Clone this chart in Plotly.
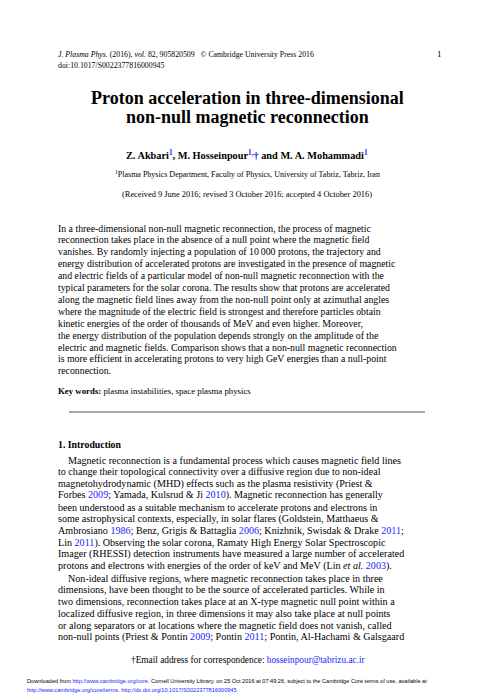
import plotly.graph_objects as go

BLUE = "#1a1aff"

def link(s):
    return "<span style='color:%s'>%s</span>" % (BLUE, s)

header_lines = [
    "<i>J. Plasma Phys.</i> (2016), <i>vol.</i> 82, 905820509   \u00a9 Cambridge University Press 2016",
    "doi:10.1017/S0022377816000945",
]
title_lines = ["Proton acceleration in three-dimensional", "non-null magnetic reconnection"]
authors = ("Z. Akbari" + link("<sup>1</sup>") + ", M. Hosseinpour" + link("<sup>1,</sup>\u2020")
           + " and M. A. Mohammadi" + link("<sup>1</sup>"))
affiliation = "<sup>1</sup>Plasma Physics Department, Faculty of Physics, University of Tabriz, Tabriz, Iran"
received = "(Received 9 June 2016; revised 3 October 2016; accepted 4 October 2016)"

abstract_lines = [
    "In a three-dimensional non-null magnetic reconnection, the process of magnetic",
    "reconnection takes place in the absence of a null point where the magnetic field",
    "vanishes. By randomly injecting a population of 10\u2009000 protons, the trajectory and",
    "energy distribution of accelerated protons are investigated in the presence of magnetic",
    "and electric fields of a particular model of non-null magnetic reconnection with the",
    "typical parameters for the solar corona. The results show that protons are accelerated",
    "along the magnetic field lines away from the non-null point only at azimuthal angles",
    "where the magnitude of the electric field is strongest and therefore particles obtain",
    "kinetic energies of the order of thousands of MeV and even higher. Moreover,",
    "the energy distribution of the population depends strongly on the amplitude of the",
    "electric and magnetic fields. Comparison shows that a non-null magnetic reconnection",
    "is more efficient in accelerating protons to very high GeV energies than a null-point",
    "reconnection.",
]
keywords = "<b>Key words:</b> plasma instabilities, space plasma physics"
section = "<b>1. Introduction</b>"

intro_lines = [
    "Magnetic reconnection is a fundamental process which causes magnetic field lines",
    "to change their topological connectivity over a diffusive region due to non-ideal",
    "magnetohydrodynamic (MHD) effects such as the plasma resistivity (Priest &amp;",
    "Forbes " + link("2009") + "; Yamada, Kulsrud &amp; Ji " + link("2010") + "). Magnetic reconnection has generally",
    "been understood as a suitable mechanism to accelerate protons and electrons in",
    "some astrophysical contexts, especially, in solar flares (Goldstein, Matthaeus &amp;",
    "Ambrosiano " + link("1986") + "; Benz, Grigis &amp; Battaglia " + link("2006") + "; Knizhnik, Swisdak &amp; Drake " + link("2011") + ";",
    "Lin " + link("2011") + "). Observing the solar corona, Ramaty High Energy Solar Spectroscopic",
    "Imager (RHESSI) detection instruments have measured a large number of accelerated",
    "protons and electrons with energies of the order of keV and MeV (Lin <i>et al.</i> " + link("2003") + ").",
    "Non-ideal diffusive regions, where magnetic reconnection takes place in three",
    "dimensions, have been thought to be the source of accelerated particles. While in",
    "two dimensions, reconnection takes place at an X-type magnetic null point within a",
    "localized diffusive region, in three dimensions it may also take place at null points",
    "or along separators or at locations where the magnetic field does not vanish, called",
    "non-null points (Priest &amp; Pontin " + link("2009") + "; Pontin " + link("2011") + "; Pontin, Al-Hachami &amp; Galsgaard",
]
indented = [0, 10]
footnote = "\u2020Email address for correspondence: " + link("hosseinpour@tabrizu.ac.ir")
download_lines = [
    "Downloaded from " + link("http://www.cambridge.org/core") + ". Cornell University Library, on 25 Oct 2016 at 07:49:26, subject to the Cambridge Core terms of use, available at",
    link("http://www.cambridge.org/core/terms") + ". " + link("http://dx.doi.org/10.1017/S0022377816000945"),
]

SERIF = "Liberation Serif"
ann = []

def add(text, x, y, size, anchor="left", family=SERIF):
    ann.append(dict(text=text, x=x, y=y, xref="x", yref="y", showarrow=False,
                    xanchor=anchor, yanchor="middle",
                    font=dict(family=family, size=size, color="black")))

for i, t in enumerate(header_lines):
    add(t, 48, 46 + i * 11, 7.8)
add("1", 427, 46, 9)
for i, t in enumerate(title_lines):
    add("<b>%s</b>" % t, 239, 90 + i * 19, 18, "center")
add("<b>%s</b>" % authors, 239, 147, 10.3, "center")
add(affiliation, 239, 166, 8, "center")
add(received, 239, 186, 8.4, "center")
for i, t in enumerate(abstract_lines):
    add(t, 48, 220 + i * 11.9, 9.8)
add(keywords, 48, 383, 8.8)
add(section, 48, 436, 9.8)
for i, t in enumerate(intro_lines):
    add(t, 58 if i in indented else 48, 452 + i * 11.8, 10.1)
add(footnote, 240, 652, 9.3, "center")
for i, t in enumerate(download_lines):
    add(t, 17, 673 + i * 9, 5.6, family="Liberation Sans")

fig = go.Figure()
fig.update_layout(
    width=493, height=700, margin=dict(l=0, r=0, t=0, b=0),
    paper_bgcolor="white", plot_bgcolor="white", showlegend=False,
    xaxis=dict(range=[0, 493], visible=False, fixedrange=True),
    yaxis=dict(range=[700, 0], visible=False, fixedrange=True),
    annotations=ann,
    shapes=[dict(type="line", xref="x", yref="y", x0=61, x1=417, y0=404, y1=404,
                 line=dict(color="#555555", width=1))],
)
fig.write_html("out.html", config={"displayModeBar": False})
